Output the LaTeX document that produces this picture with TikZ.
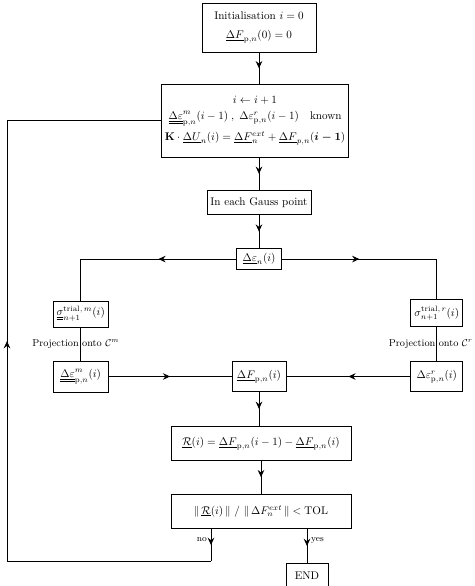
\documentclass[tikz,border=0pt]{standalone}
\usepackage{amsmath,amssymb}
\usepackage{tikz}
\usetikzlibrary{positioning,arrows.meta,decorations.markings}

\begin{document}
\begin{tikzpicture}[
  box/.style={draw, line width=0.7pt, align=center, inner sep=3pt},
  flow/.style={line width=0.7pt, postaction={decorate},
    decoration={markings, mark=at position 0.5 with {\arrow{Stealth[length=2.3mm, width=2.1mm, inset=0.8mm]}}}},
  line/.style={line width=0.7pt},
  lab/.style={font=\small},
  yn/.style={font=\footnotesize}
]
\node[box, minimum width=102.6pt, minimum height=44pt] (init) {Initialisation $i=0$\\[5pt] $\underline{\Delta F}_{\mathrm{p},n}(0)=0$};
\useasboundingbox ([xshift=-233.1pt, yshift=24.75pt]init.center) rectangle ([xshift=193.5pt, yshift=-502.65pt]init.center);
\node[box, below=28.8pt of init, minimum width=166.5pt, minimum height=65pt, xshift=-3.6pt] (step) {$i \leftarrow i+1$\\[2pt]
  $\underline{\underline{\Delta\varepsilon}}^{m}_{\mathrm{p},n}(i-1)\;,\;\Delta\varepsilon^{r}_{\mathrm{p},n}(i-1)$\quad known\\[4pt]
  $\mathbf{K}\cdot\underline{\Delta U}_{n}(i)=\underline{\Delta F}^{ext}_{n}+\underline{\Delta F}_{p,n}(\boldsymbol{i-1})$};
\node[box, below=29.7pt of step, xshift=3.6pt, minimum width=93pt, minimum height=21.6pt] (gauss) {In each Gauss point};
\node[box, below=29.7pt of gauss, minimum width=40.5pt, minimum height=19pt] (deps) {$\underline{\Delta\varepsilon}_{n}(i)$};
\node[box, below=82pt of deps, minimum width=48.6pt, minimum height=27pt] (dF) {$\underline{\Delta F}_{\mathrm{p},n}(i)$};
\node[box, left=110.7pt of dF, minimum width=49.5pt, minimum height=28pt] (depm) {$\underline{\underline{\Delta\varepsilon}}^{m}_{\mathrm{p},n}(i)$};
\node[box, right=111.6pt of dF, minimum width=46.8pt, minimum height=27pt] (depr) {$\Delta\varepsilon^{r}_{\mathrm{p},n}(i)$};
\node[box, above=29.7pt of depm, minimum width=48.6pt, minimum height=23.4pt] (sigm) {$\underline{\underline{\sigma}}^{\mathrm{trial},\,m}_{n+1}(i)$};
\node[box, above=30.6pt of depr, minimum width=46.8pt, minimum height=24.3pt] (sigr) {$\sigma^{\mathrm{trial},\,r}_{n+1}(i)$};
\node[box, below=30.6pt of dF, minimum width=162pt, minimum height=30.6pt, xshift=1.8pt] (res) {$\underline{\mathcal{R}}(i)=\underline{\Delta F}_{\mathrm{p},n}(i-1)-\underline{\Delta F}_{\mathrm{p},n}(i)$};
\node[box, below=29.7pt of res, minimum width=162pt, minimum height=30.6pt] (norm) {$\|\,\underline{\mathcal{R}}(i)\,\|\ /\ \|\,\Delta F^{ext}_{n}\,\| < \mathrm{TOL}$};
\node[box, below=31.5pt of norm.south, xshift=41.4pt, minimum width=37.8pt, minimum height=21.6pt] (end) {END};
\coordinate[below=29.7pt of norm.south, xshift=-45pt] (nofoot);
\coordinate (loopx) at ([xshift=-226.8pt]init.center);

% main column
\draw[flow] (init) -- (init.south |- step.north);
\draw[flow] (step.south -| gauss.north) -- (gauss);
\draw[flow] (gauss) -- (deps);
\draw[flow] (deps.west) -- (deps.west -| sigm.north);
\draw[line] (deps.west -| sigm.north) -- (sigm.north);
\draw[flow] (deps.east) -- (deps.east -| sigr.north);
\draw[line] (deps.east -| sigr.north) -- (sigr.north);
\draw[line] (sigm) -- node[lab, midway, xshift=-4.5pt] {Projection onto $\mathcal{C}^m$} (depm);
\draw[line] (sigr) -- node[lab, midway, xshift=-5.4pt] {Projection onto $\mathcal{C}^r$} (depr);
\draw[flow] (depm) -- (dF);
\draw[flow] (depr) -- (dF);
\draw[flow] (dF.south) -- (dF.south |- res.north);
\draw[flow] (res) -- (norm);
\draw[flow] (norm.south -| end.north) -- node[yn, pos=0.35, right] {yes} (end.north);
\draw[flow] (norm.south -| nofoot) -- node[yn, pos=0.35, left] {no} (nofoot);
\draw[line] (nofoot) -- (loopx |- nofoot);
\draw[flow] (loopx |- nofoot) -- (loopx |- step.west);
\draw[line] (loopx |- step.west) -- (step.west);
\end{tikzpicture}
\end{document}
